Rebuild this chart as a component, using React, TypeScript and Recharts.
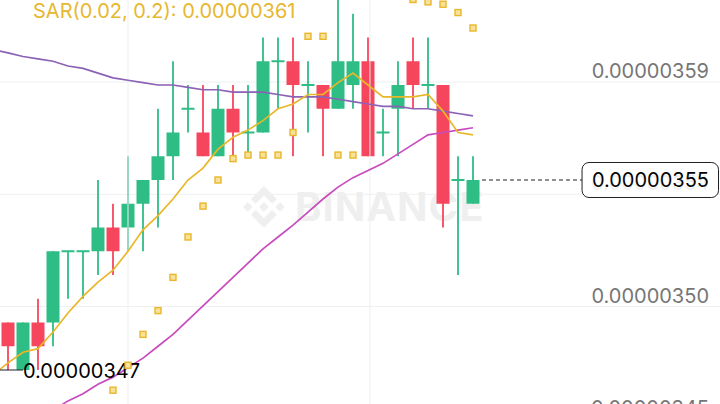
import { Bar, CartesianGrid, ComposedChart, Line, ReferenceLine, Scatter, XAxis, YAxis } from "recharts";

// prices are kept in units of 1e-8 (the last 3 digits shown on the axis)
const UNIT = 1e-8;

const opens = [348, 349, 347, 349, 349, 352, 352, 352, 353, 353, 354, 355, 356, 358, 357, 356, 358, 357, 357, 360, 360, 359, 359, 358, 359, 360, 357, 358, 360, 359, 359, 355, 354];
const highs = [349, 349, 349, 350, 352, 352, 352, 355, 354, 356, 355, 358, 360, 359, 359, 359, 359, 359, 361, 361, 361, 360, 359, 363, 362, 361, 358, 360, 361, 361, 359, 356, 356];
const lows = [347, 347, 347, 347, 348, 350, 350, 351, 351, 352, 352, 353, 355, 357, 356, 356, 356, 356, 357, 358, 356, 357, 356, 358, 358, 356, 356, 356, 358, 358, 353, 351, 354];
const closes = [347.5, 348, 349, 348, 352, 352, 352, 353, 352, 354, 355, 356, 357, 358, 356, 358, 357, 357, 360, 360, 359, 359, 358, 360, 360, 356, 357, 359, 359, 359, 354, 355, 355];

const maFast = [346.8, 347.3, 347.75, 347.9, 348.6, 349.4, 350.1, 350.7, 351.2, 352.0, 352.9, 353.5, 354.2, 355.0, 355.5, 356.3, 356.8, 357.1, 357.5, 358.0, 358.2, 358.6, 358.6, 359.1, 359.5, 359.0, 358.5, 358.5, 358.5, 358.6, 357.9, 357.0, 356.9];
const maMid = [343.3, 343.8, 344.3, 344.8, 345.3, 345.7, 346.0, 346.4, 346.7, 347.1, 347.5, 348.0, 348.5, 349.1, 349.7, 350.3, 350.9, 351.5, 352.1, 352.6, 353.1, 353.65, 354.2, 354.7, 355.1, 355.4, 355.7, 356.1, 356.5, 356.9, 357.0, 357.1, 357.2];
const maSlow = [360.5, 360.35, 360.2, 360.1, 360.0, 359.8, 359.7, 359.5, 359.3, 359.2, 359.1, 359.0, 359.0, 358.9, 358.8, 358.8, 358.7, 358.7, 358.7, 358.6, 358.5, 358.5, 358.5, 358.4, 358.3, 358.2, 358.1, 358.1, 358.0, 358.0, 357.9, 357.8, 357.7];
const sar = [null, null, null, null, null, null, null, null, 346.15, 347.2, 348.5, 349.5, 350.9, 352.6, 353.9, 355.0, 355.9, 356.05, 356.05, 356.05, 357.0, 361.05, 361.05, 356.05, 356.05, 363.9, 363.5, 363.1, 362.6, 362.5, 362.4, 362.05, 361.4];

const priceTicks = [359.126, 354.398, 349.669, 344.941];
const lastPrice = 355;
const lowestPrice = 347;
const sarLast = 361;

const candles = opens.map((open, k) => ({
  i: k - 1,
  open,
  high: highs[k],
  low: lows[k],
  close: closes[k],
  maFast: maFast[k],
  maMid: maMid[k],
  maSlow: maSlow[k],
}));
const sarData = sar.map((v, k) => ({ i: k - 1, sar: v })).filter((d) => d.sar !== null);

// visible window, and the svg which overhangs it so the first candle's lines run to the edge
const VIEW_W = 720;
const VIEW_H = 404;
const SHIFT_X = 16;
const SHIFT_Y = 24;
const SVG_W = VIEW_W + SHIFT_X;
const SVG_H = VIEW_H + SHIFT_Y + 36;

const GREEN = "#2EBD85";
const RED = "#F6465D";
const GRID = "#EDEFF1";
const FONT = "Inter, 'Noto Sans', sans-serif";

const fmt = (v: number) => (v * UNIT).toFixed(8);

// eslint-disable-next-line @typescript-eslint/no-explicit-any
const Candle = (props: any) => {
  const { x, y, width, height, payload } = props;
  const { open, close, high, low } = payload;
  const color = close >= open ? GREEN : RED;
  const ratio = high === low ? 0 : height / (high - low);
  const yOpen = y + (high - open) * ratio;
  const yClose = y + (high - close) * ratio;
  const top = Math.min(yOpen, yClose);
  const bodyH = Math.abs(yOpen - yClose);
  const cx = x + width / 2;
  return (
    <g>
      <line x1={cx} x2={cx} y1={y} y2={y + height} stroke={color} strokeWidth={1.8} />
      {bodyH < 2 ? (
        <rect x={x} y={top - 1} width={width} height={2} fill={color} />
      ) : (
        <rect x={x} y={top} width={width} height={bodyH} fill={color} />
      )}
    </g>
  );
};

// eslint-disable-next-line @typescript-eslint/no-explicit-any
const SarDot = (props: any) => {
  const { cx, cy } = props;
  return <rect x={cx - 3} y={cy - 3} width={6} height={6} fill="#F7E29C" stroke="#E9B72A" strokeWidth={1.4} />;
};

// eslint-disable-next-line @typescript-eslint/no-explicit-any
const PriceTick = (props: any) => {
  const { y, payload } = props;
  // the label under the last-price tag only shows through faintly
  const hidden = Math.abs(payload.value - lastPrice) < 1.5;
  return (
    <text
      x={SVG_W - 11}
      y={y - 11}
      textAnchor="end"
      dominantBaseline="central"
      fontSize={20}
      fontFamily={FONT}
      fill="#767676"
      fillOpacity={hidden ? 0.12 : 1}
    >
      {fmt(payload.value)}
    </text>
  );
};

// eslint-disable-next-line @typescript-eslint/no-explicit-any
const PriceTag = (props: any) => {
  const vb = props.viewBox || {};
  const x = vb.x + vb.width;
  const y = vb.y;
  return (
    <g>
      <rect x={x} y={y - 17.5} width={SVG_W - 1.5 - x} height={35} rx={7} fill="#fff" fillOpacity={0.88} stroke="#1E2026" />
      <text x={SVG_W - 11} y={y} textAnchor="end" dominantBaseline="central" fontSize={20} fontFamily={FONT} fill="#000">
        {fmt(lastPrice)}
      </text>
    </g>
  );
};

// eslint-disable-next-line @typescript-eslint/no-explicit-any
const LowTag = (props: any) => {
  const vb = props.viewBox || {};
  return (
    <text x={vb.x + vb.width} y={vb.y + 1} dominantBaseline="central" fontSize={20} fontFamily={FONT} fill="#000">
      {fmt(lowestPrice)}
    </text>
  );
};

const BinanceMark = () => (
  <div
    style={{
      position: "absolute",
      left: 243,
      top: 186,
      display: "flex",
      alignItems: "center",
      gap: 10,
      color: "#EFEFEF",
      fontFamily: FONT,
      fontWeight: 700,
      fontSize: 40,
      letterSpacing: 1,
      lineHeight: "42px",
    }}
  >
    <svg width={42} height={42} viewBox="0 0 126 126">
      <path
        fill="#EFEFEF"
        d="M38.171 53.203 62.759 28.616 87.36 53.216 101.667 38.909 62.759 0 23.864 38.896z M0 62.759 14.307 48.452 28.614 62.759 14.307 77.066z M38.171 72.317 62.759 96.903 87.36 72.303 101.674 86.602 62.759 125.519 23.864 86.623z M96.905 62.759 111.212 48.452 125.519 62.759 111.212 77.066z M77.271 62.751 62.759 48.239 48.249 62.749 62.759 77.251z"
      />
    </svg>
    <span>BINANCE</span>
  </div>
);

const App = () => {
  return (
    <div style={{ position: "absolute", left: 0, top: 0, width: VIEW_W, height: VIEW_H, overflow: "hidden", background: "#fff" }}>
      <BinanceMark />
      <div style={{ position: "absolute", left: -SHIFT_X, top: -SHIFT_Y }}>
        <ComposedChart width={SVG_W} height={SVG_H} data={candles} margin={{ top: 0, right: 0, bottom: 0, left: 0 }}>
          <CartesianGrid stroke={GRID} vertical={false} />
          <XAxis dataKey="i" type="number" domain={[-1.6, -1.6 + SVG_W / 15]} allowDataOverflow hide />
          <YAxis
            orientation="right"
            mirror
            type="number"
            domain={[344.053, 363.589]}
            allowDataOverflow
            ticks={priceTicks}
            axisLine={false}
            tickLine={false}
            tick={<PriceTick />}
          />
          <ReferenceLine x={8} stroke={GRID} />
          <ReferenceLine x={24.13} stroke={GRID} />
          <Bar dataKey={(d: { low: number; high: number }) => [d.low, d.high]} barSize={13} shape={<Candle />} isAnimationActive={false} />
          <Line dataKey="maSlow" type="linear" stroke="#8B62B5" strokeWidth={1.7} dot={false} isAnimationActive={false} />
          <Line dataKey="maMid" type="linear" stroke="#C84BBE" strokeWidth={1.7} dot={false} isAnimationActive={false} />
          <Line dataKey="maFast" type="linear" stroke="#E9B72A" strokeWidth={1.7} dot={false} isAnimationActive={false} />
          <Scatter data={sarData} dataKey="sar" shape={<SarDot />} isAnimationActive={false} />
          <ReferenceLine
            segment={[{ x: 31.6, y: lastPrice }, { x: 38.27, y: lastPrice }]}
            stroke="#1E2026"
            strokeDasharray="4 3"
            ifOverflow="visible"
            label={(p: unknown) => <PriceTag {...(p as object)} />}
          />
          <ReferenceLine
            segment={[{ x: -0.6, y: lowestPrice }, { x: 1, y: lowestPrice }]}
            stroke="#1E2026"
            ifOverflow="visible"
            label={(p: unknown) => <LowTag {...(p as object)} />}
          />
        </ComposedChart>
      </div>
      <div style={{ position: "absolute", left: 33, top: -1, fontFamily: FONT, fontSize: 20, color: "#E6B830", lineHeight: "24px", whiteSpace: "nowrap" }}>
        SAR(0.02, 0.2): {fmt(sarLast)}
      </div>
    </div>
  );
};

export default App;
